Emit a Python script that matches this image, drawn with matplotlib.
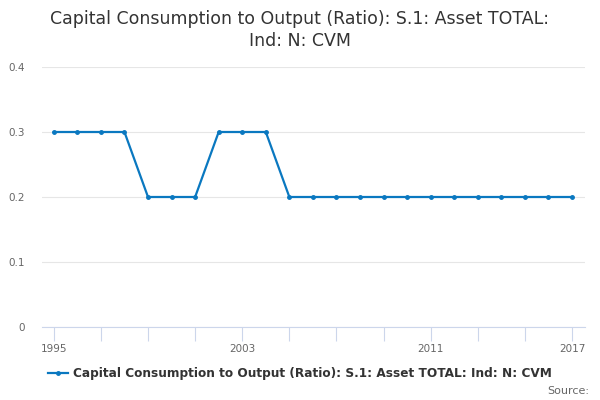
import matplotlib as mpl
mpl.use('Agg')
import matplotlib.pyplot as plt

years = list(range(1995, 2018))
ratio = [0.3, 0.3, 0.3, 0.3, 0.2, 0.2, 0.2, 0.3, 0.3, 0.3,
         0.2, 0.2, 0.2, 0.2, 0.2, 0.2, 0.2, 0.2, 0.2, 0.2, 0.2, 0.2, 0.2]
series_name = 'Capital Consumption to Output (Ratio): S.1: Asset TOTAL: Ind: N: CVM'
tick_years = list(range(1995, 2018, 2))
label_years = [1995, 2003, 2011, 2017]

fig = plt.figure(figsize=(6, 4), dpi=100)
ax = fig.add_axes([0.07, 0.1825, 0.905, 0.65])

ax.plot(years, ratio, color='#0a78c0', linewidth=1.6, marker='o', markersize=2.5)

ax.set_xlim(1994.5, 2017.55)
ax.set_ylim(0, 0.4)
ax.set_yticks([0, 0.1, 0.2, 0.3, 0.4])
ax.set_yticklabels(['0', '0.1', '0.2', '0.3', '0.4'])
ax.set_xticks(tick_years)
ax.set_xticklabels([str(y) if y in label_years else '' for y in tick_years])
ax.set_xticks([2017], minor=True)
ax.set_xticklabels(['2017'], minor=True)
ax.tick_params(axis='x', which='minor', length=10, color='#ccd6eb', labelsize=7.5,
               labelcolor='#666666', pad=2)
ax.tick_params(axis='x', length=10, color='#ccd6eb', labelsize=7.5, labelcolor='#666666', pad=2)
ax.tick_params(axis='y', length=0, labelsize=7.5, labelcolor='#666666', pad=12)

ax.grid(axis='y', color='#e6e6e6', linewidth=0.8)
ax.set_axisbelow(True)
for side in ['top', 'right', 'left']:
    ax.spines[side].set_visible(False)
ax.spines['bottom'].set_color('#ccd6eb')

fig.suptitle('Capital Consumption to Output (Ratio): S.1: Asset TOTAL:\nInd: N: CVM',
             x=0.5, y=0.975, fontsize=12.5, color='#333333', linespacing=1.3)

leg = fig.legend([ax.lines[0]], [series_name], loc='center', bbox_to_anchor=(0.5, 0.065),
                 frameon=False, fontsize=8.7, handlelength=1.6, handletextpad=0.4)
for t in leg.get_texts():
    t.set_fontweight('bold')
    t.set_color('#333333')

fig.text(0.982, 0.022, 'Source:', ha='right', va='center', fontsize=8, color='#666666')

fig.savefig('out.png', dpi=100)
